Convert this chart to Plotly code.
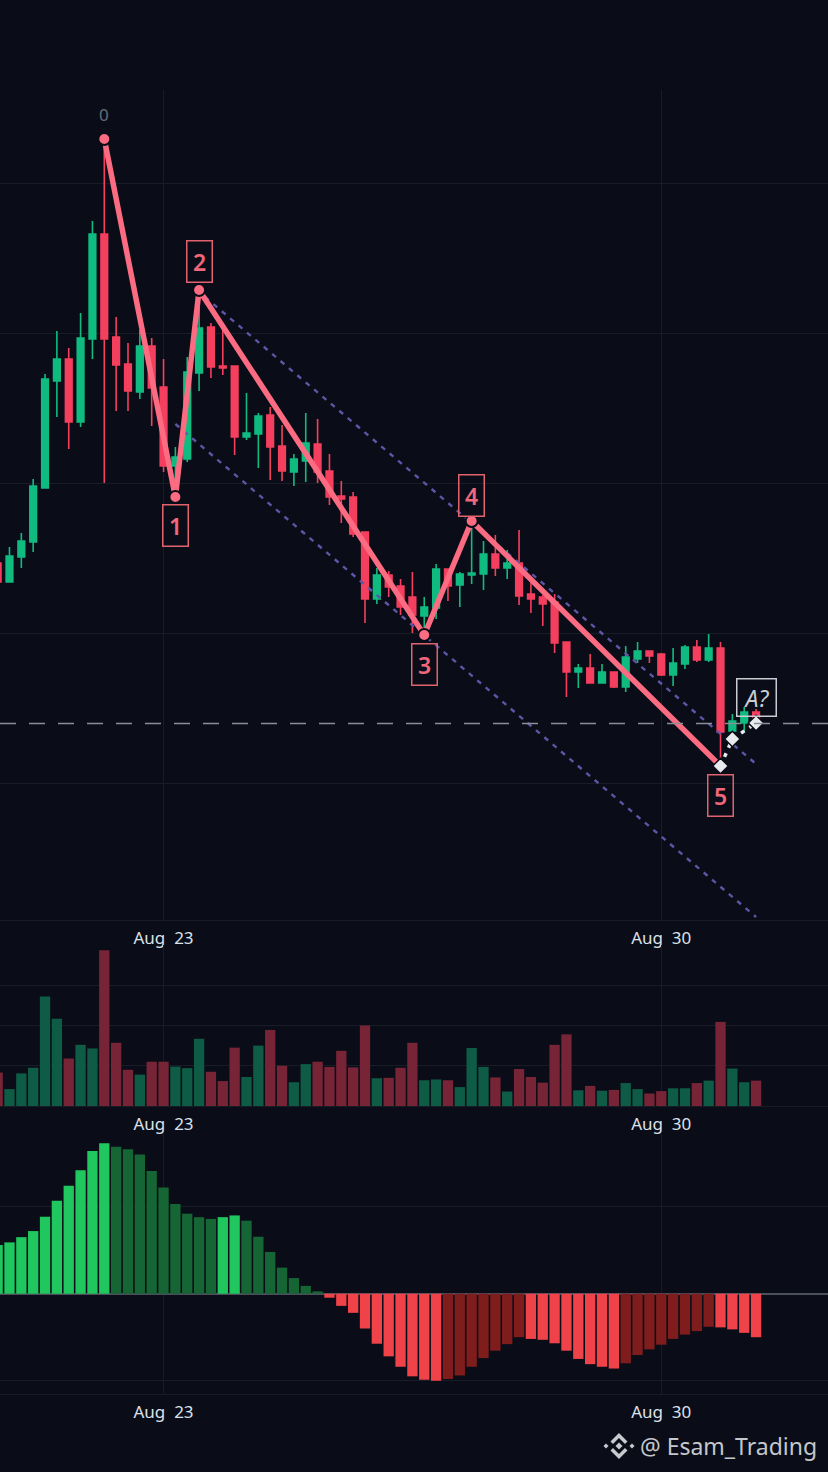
# Elliott wave chart with volume and histogram panels
import pandas as pd
import plotly.graph_objects as go

W, H = 828, 1472
BG = '#0a0d17'
GRID = '#181c26'
CANDLE_UP = '#10bb80'
CANDLE_DOWN = '#f43f5e'
WAVE = '#fb6b82'
CHANNEL = '#5f54a6'

# 4h bars, first one is Aug 20 16:00. Prices have no labels in the picture,
# so the scale is relative
dates = pd.date_range('2025-08-20 16:00', periods=65, freq='4h')
opens = [820, 801, 826, 841, 895, 1002, 1024, 961, 1044, 1149, 1046, 1019, 991, 1037, 996, 917,
         924, 1010, 1056, 1017, 1017, 946, 949, 968, 937, 911, 922, 939, 912, 887, 886, 851,
         784, 808, 797, 786, 767, 775, 814, 798, 808, 809, 829, 815, 820, 789, 786, 781,
         741, 711, 715, 700, 711, 696, 724, 732, 729, 708, 719, 736, 723, 735, 652, 660, 671]
highs = [825, 836, 850, 904, 1009, 1052, 1035, 1070, 1162, 1244, 1066, 1040, 1053, 1045, 1024, 936,
         1026, 1086, 1060, 1053, 1017, 990, 970, 976, 958, 929, 970, 964, 929, 902, 891, 851,
         815, 812, 804, 811, 786, 819, 814, 811, 855, 842, 848, 833, 853, 800, 788, 789,
         741, 719, 729, 719, 711, 737, 741, 732, 730, 735, 738, 743, 749, 741, 669, 676, 674]
lows = [798, 801, 815, 831, 895, 966, 934, 956, 1024, 900, 972, 972, 984, 957, 911, 896,
        921, 992, 1005, 1008, 928, 943, 915, 903, 902, 897, 901, 900, 878, 860, 846, 760,
        779, 786, 768, 750, 753, 764, 782, 776, 799, 793, 807, 804, 778, 770, 757, 730,
        686, 695, 700, 700, 695, 691, 720, 720, 707, 697, 714, 721, 721, 621, 650, 651, 656]
closes = [801, 827, 842, 897, 1004, 1024, 961, 1045, 1149, 1044, 1018, 992, 1037, 995, 917, 926,
          1011, 1055, 1016, 1015, 946, 950, 967, 936, 912, 924, 940, 911, 886, 884, 849, 784,
          808, 796, 776, 768, 776, 814, 797, 809, 810, 829, 815, 820, 787, 784, 779, 740,
          711, 715, 700, 711, 696, 726, 732, 727, 708, 720, 736, 723, 735, 651, 662, 671, 662]
volume = [0.83, 0.42, 0.81, 0.95, 2.72, 2.17, 1.18, 1.52, 1.43, 3.87, 1.57, 0.9, 0.78, 1.1, 1.1, 0.98,
          0.94, 1.67, 0.85, 0.62, 1.45, 0.72, 1.5, 1.89, 1.0, 0.59, 1.04, 1.1, 0.97, 1.37, 0.96, 2.0,
          0.69, 0.7, 0.95, 1.57, 0.64, 0.66, 0.64, 0.47, 1.44, 0.97, 0.71, 0.36, 0.92, 0.72, 0.58, 1.52,
          1.78, 0.39, 0.5, 0.38, 0.4, 0.57, 0.42, 0.31, 0.37, 0.44, 0.44, 0.57, 0.63, 2.09, 0.93, 0.59, 0.63]
hist = [0.56, 0.59, 0.65, 0.72, 0.885, 1.07, 1.24, 1.42, 1.64, 1.73, 1.69, 1.66, 1.6, 1.41, 1.22, 1.03,
        0.92, 0.88, 0.86, 0.88, 0.9, 0.84, 0.655, 0.48, 0.3, 0.18, 0.09, 0.027, -0.046, -0.14, -0.22, -0.4,
        -0.575, -0.72, -0.84, -0.95, -0.99, -1.0, -0.98, -0.94, -0.84, -0.74, -0.655, -0.58, -0.5, -0.52, -0.53, -0.57,
        -0.655, -0.75, -0.81, -0.84, -0.86, -0.8, -0.705, -0.64, -0.586, -0.52, -0.47, -0.43, -0.38, -0.387, -0.41, -0.45, -0.5]

# wave pivots: bar number counted from the first bar, price
wave_bars = [9, 15, 17, 36, 40, 61]
wave_prices = [1244, 886, 1093, 748, 862, 617]
next_bars = [61, 62, 64]
next_prices = [617, 644, 660]
channel_up_bars = [17.5, 64]
channel_up_prices = [1086, 619]
channel_low_bars = [15, 64]
channel_low_prices = [959, 466]
last_price = 659.5

wave_labels = ['0', '1', '2', '3', '4', '5']
label_shift = [24, -28, 28, -29, 26, -29]


def at(bar):
    return dates[0] + pd.Timedelta(hours=4 * bar)


def px_to_paper(x, y):
    return x / W, 1 - y / H


def polygon(points):
    coords = [px_to_paper(x, y) for x, y in points]
    return 'M ' + ' L '.join(f'{x:.5f},{y:.5f}' for x, y in coords) + ' Z'


up = [c >= o for o, c in zip(opens, closes)]
vol_colors = ['#0f5c46' if u else '#782437' for u in up]

hist_colors = []
for i, h in enumerate(hist):
    growing = i == 0 or abs(h) > abs(hist[i - 1])
    if h >= 0:
        hist_colors.append('#20c75f' if growing else '#166534')
    else:
        hist_colors.append('#f04349' if growing else '#7f1d1d')

fig = go.Figure()

fig.add_trace(go.Candlestick(
    x=dates, open=opens, high=highs, low=lows, close=closes,
    increasing=dict(line=dict(color=CANDLE_UP, width=1.6), fillcolor=CANDLE_UP),
    decreasing=dict(line=dict(color=CANDLE_DOWN, width=1.6), fillcolor=CANDLE_DOWN),
    xaxis='x', yaxis='y', showlegend=False,
))
for bars, prices in [(channel_up_bars, channel_up_prices), (channel_low_bars, channel_low_prices)]:
    fig.add_trace(go.Scatter(
        x=[at(b) for b in bars], y=prices, mode='lines',
        line=dict(color=CHANNEL, width=2.4, dash='5px,6px'),
        xaxis='x', yaxis='y', showlegend=False,
    ))
fig.add_trace(go.Scatter(
    x=[at(b) for b in next_bars], y=next_prices, mode='lines',
    line=dict(color='#e8eaee', width=3.5, dash='4px,6px'),
    xaxis='x', yaxis='y', showlegend=False,
))
fig.add_trace(go.Scatter(
    x=[at(b) for b in wave_bars], y=wave_prices, mode='lines',
    line=dict(color=WAVE, width=5.5),
    xaxis='x', yaxis='y', showlegend=False,
))
fig.add_trace(go.Scatter(
    x=[at(b) for b in wave_bars[:5]], y=wave_prices[:5], mode='markers',
    marker=dict(color=WAVE, size=12, line=dict(color=BG, width=2)),
    xaxis='x', yaxis='y', showlegend=False,
))
fig.add_trace(go.Scatter(
    x=[at(b) for b in next_bars], y=next_prices, mode='markers',
    marker=dict(color='#e8eaee', size=12, symbol='diamond', line=dict(color=BG, width=1.5)),
    xaxis='x', yaxis='y', showlegend=False,
))

fig.add_trace(go.Bar(x=dates, y=volume, marker=dict(color=vol_colors, line_width=0),
                     xaxis='x2', yaxis='y2', showlegend=False))
fig.add_trace(go.Bar(x=dates, y=hist, marker=dict(color=hist_colors, line_width=0),
                     xaxis='x3', yaxis='y3', showlegend=False))

# bar -13.8 sits on the left edge of the picture, bar 56 on the right one
x_range = [at(14 - 13.8), at(14 + 56.07)]
tick_dates = [at(14), at(56)]
tick_text = ['Aug\u00a0\u00a023', 'Aug\u00a0\u00a030']
x_common = dict(range=x_range, type='date', tickvals=tick_dates, ticktext=tick_text,
                showgrid=True, gridcolor=GRID, gridwidth=1, zeroline=False, showline=True,
                linecolor=GRID, ticks='outside', ticklen=3, tickcolor=BG,
                tickfont=dict(family='Noto Sans', size=17, color='#dde1e8'),
                rangeslider=dict(visible=False))
y_common = dict(showticklabels=False, ticks='', gridcolor=GRID, gridwidth=1, zeroline=False)

fig.update_layout(
    width=W, height=H, autosize=False,
    margin=dict(l=0, r=0, t=0, b=0),
    paper_bgcolor=BG, plot_bgcolor=BG,
    bargap=0.13,
    boxgap=0.2,
    font=dict(family='Noto Sans'),
    xaxis=dict(domain=[0, 1], anchor='y', **x_common),
    xaxis2=dict(domain=[0, 1], anchor='y2', **x_common),
    xaxis3=dict(domain=[0, 1], anchor='y3', **x_common),
    yaxis=dict(domain=[1 - 920 / H, 1 - 90 / H], range=[463, 1293], anchor='x',
               tickvals=[600, 750, 900, 1050, 1200], **y_common),
    yaxis2=dict(domain=[1 - 1106 / H, 1 - 945 / H], range=[0, 4], anchor='x2',
                tickvals=[0, 1, 2, 3, 4], **y_common),
    yaxis3=dict(domain=[1 - 1394 / H, 1 - 1134 / H], range=[-1.153, 1.836], anchor='x3',
                tickvals=[-1, 0, 1], showticklabels=False, ticks='', gridcolor=GRID,
                zeroline=True, zerolinecolor='#4a4f5a', zerolinewidth=1.5),
)

shapes = [dict(type='line', xref='x domain', yref='y', x0=0, x1=1, y0=last_price, y1=last_price,
               line=dict(color='#8a8e96', width=1.5, dash='16px,13px'), layer='above')]
logo_parts = [
    [(619, 1442.5), (622.5, 1446), (619, 1449.5), (615.5, 1446)],
    [(606, 1443.5), (608.5, 1446), (606, 1448.5), (603.5, 1446)],
    [(632, 1443.5), (634.5, 1446), (632, 1448.5), (629.5, 1446)],
    [(619, 1433), (627.5, 1441.5), (625, 1444), (619, 1438), (613, 1444), (610.5, 1441.5)],
    [(619, 1459), (627.5, 1450.5), (625, 1448), (619, 1454), (613, 1448), (610.5, 1450.5)],
]
for part in logo_parts:
    shapes.append(dict(type='path', xref='paper', yref='paper', path=polygon(part),
                       fillcolor='#c8cad0', line_width=0))
fig.update_layout(shapes=shapes)

fig.add_annotation(x=at(wave_bars[0]), y=wave_prices[0], yshift=label_shift[0], text=wave_labels[0],
                   showarrow=False, font=dict(family='Noto Sans', size=17, color='#666c78'),
                   xref='x', yref='y')
for i in range(1, 6):
    fig.add_annotation(x=at(wave_bars[i]), y=wave_prices[i], yshift=label_shift[i], text=wave_labels[i],
                       showarrow=False, width=22, height=38, valign='middle', borderpad=1,
                       bordercolor='#e0626f', borderwidth=1.5,
                       font=dict(family='Noto Sans', size=23, color='#f0667a', weight=600),
                       xref='x', yref='y')
fig.add_annotation(x=at(next_bars[-1]), y=next_prices[-1], yshift=26, text='<i>A?</i>',
                   showarrow=False, width=36, height=34, valign='middle', borderpad=1,
                   bordercolor='#c9ccd2', borderwidth=1.5,
                   font=dict(family='Noto Sans', size=23, color='#c9ccd2'),
                   xref='x', yref='y')
fig.add_annotation(x=819 / W, y=1 - 1446 / H, xref='paper', yref='paper', xanchor='right', yanchor='middle',
                   text='@ Esam_Trading', showarrow=False,
                   font=dict(family='Noto Sans', size=23, color='#c4c7cc'))

# the page's default body margin would shift the chart by 8 px
fig.write_html("out.html", config={'displayModeBar': False},
               post_script="document.body.style.margin='0';document.body.style.background='#0a0d17';")
